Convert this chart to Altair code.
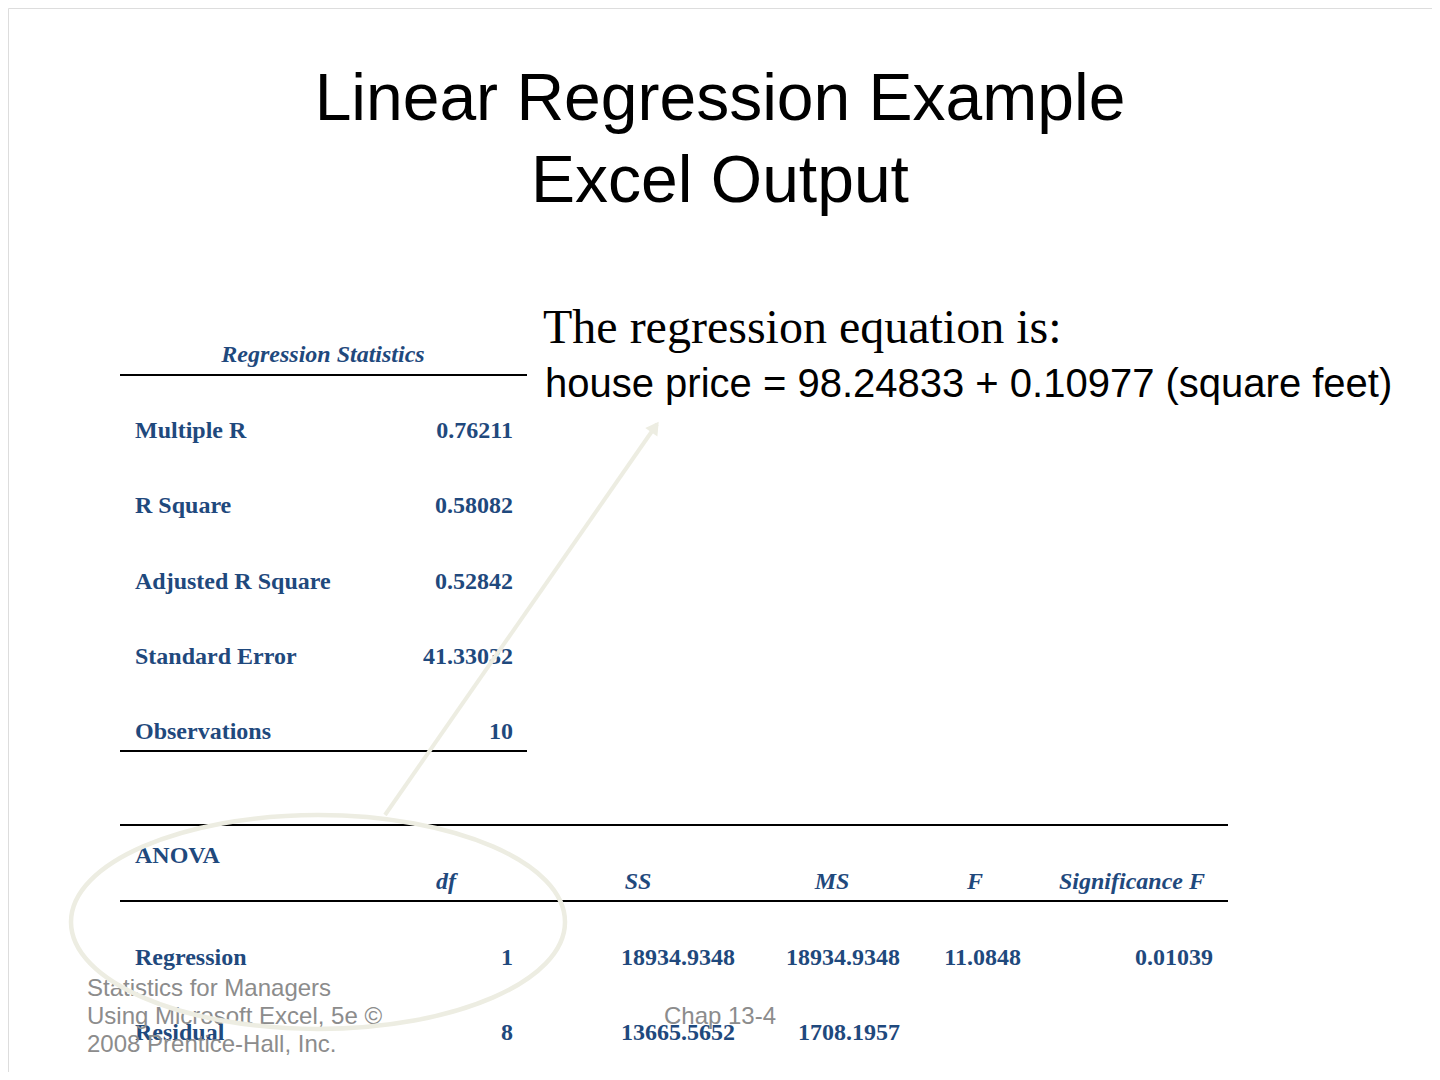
import altair as alt
import pandas as pd

# ---------------- data ----------------
title_lines = ["Linear Regression Example", "Excel Output"]
eq_intro = "The regression equation is:"
eq_text = "house price = 98.24833 + 0.10977 (square feet)"

stats_header = "Regression Statistics"
stats_labels = ["Multiple R", "R Square", "Adjusted R Square", "Standard Error", "Observations"]
stats_values = ["0.76211", "0.58082", "0.52842", "41.33032", "10"]

anova_title = "ANOVA"
anova_cols = ["df", "SS", "MS", "F", "Significance F"]
anova_rows = ["Regression", "Residual"]
anova_df = ["1", "8"]
anova_ss = ["18934.9348", "13665.5652"]
anova_ms = ["18934.9348", "1708.1957"]
anova_f = ["11.0848", ""]
anova_sig = ["0.01039", ""]

footer_lines = ["Statistics for Managers", "Using Microsoft Excel, 5e \u00a9", "2008 Prentice-Hall, Inc."]
footer_right = "Chap 13-4"

# ---------------- layout (page pixel coordinates) ----------------
BLUE = "#1F497D"
SERIF = "Liberation Serif"
SANS = "Liberation Sans"
TS = 24  # table font size

title_y = [120, 202]
stats_row_y = [438, 513, 589, 664, 739]
anova_row_y = [965, 1040]
anova_col_right = [513, 735, 900, 1021, 1213]
anova_col_center = [446, 638, 832, 975, 1132]
footer_y = [996, 1024, 1052]

texts = []
def add(x, y, t, size, color, font, weight="normal", style="normal", align="left"):
    texts.append(dict(x=x, y=y, t=t, size=size, color=color, font=font,
                      weight=weight, style=style, align=align))

for t, y in zip(title_lines, title_y):
    add(720, y, t, 66, "#000000", SANS, align="center")
add(543, 343, eq_intro, 48, "#000000", SERIF)
add(545, 397, eq_text, 40, "#000000", SANS)

add(323, 362, stats_header, TS, BLUE, SERIF, "bold", "italic", "center")
for lab, val, y in zip(stats_labels, stats_values, stats_row_y):
    add(135, y, lab, TS, BLUE, SERIF, "bold")
    add(513, y, val, TS, BLUE, SERIF, "bold", align="right")

add(135, 863, anova_title, TS, BLUE, SERIF, "bold")
for c, x in zip(anova_cols, anova_col_center):
    add(x, 889, c, TS, BLUE, SERIF, "bold", "italic", "center")
for i, (r, y) in enumerate(zip(anova_rows, anova_row_y)):
    add(135, y, r, TS, BLUE, SERIF, "bold")
    vals = [anova_df[i], anova_ss[i], anova_ms[i], anova_f[i], anova_sig[i]]
    for v, x in zip(vals, anova_col_right):
        if v:
            add(x, y, v, TS, BLUE, SERIF, "bold", align="right")

for t, y in zip(footer_lines, footer_y):
    add(87, y, t, 24, "#8C8C8C", SANS)
add(720, 1024, footer_right, 24, "#8C8C8C", SANS, align="center")

tdf = pd.DataFrame(texts)

rules = pd.DataFrame(dict(
    x=[120, 120, 120, 120],
    x2=[527, 527, 1228, 1228],
    y=[375, 751, 825, 901],
))

arrow = pd.DataFrame(dict(x=[385], y=[815], x2=[657], y2=[424]))
arrow_head = pd.DataFrame(dict(x=[655], y=[427]))
ellipse = pd.DataFrame(dict(x=[318], y=[922]))

X = alt.Scale(domain=[8, 1432], nice=False, zero=False)
Y = alt.Scale(domain=[1072, 8], nice=False, zero=False)

def xe(f):
    return alt.X(f, type="quantitative", scale=X, axis=None)
def ye(f):
    return alt.Y(f, type="quantitative", scale=Y, axis=None)

layers = []
for (size, color, font, weight, style, align), g in tdf.groupby(
        ["size", "color", "font", "weight", "style", "align"]):
    layers.append(
        alt.Chart(g).mark_text(
            fontSize=float(size), color=color, font=font, fontWeight=weight,
            fontStyle=style, align=align, baseline="alphabetic"
        ).encode(x=xe("x"), y=ye("y"), text="t:N")
    )

rule_layer = alt.Chart(rules).mark_rule(color="#000000", strokeWidth=2).encode(
    x=xe("x"), x2="x2:Q", y=ye("y"))

arrow_layer = alt.Chart(arrow).mark_rule(color="#EDEDE2", strokeWidth=4).encode(
    x=xe("x"), x2="x2:Q", y=ye("y"), y2="y2:Q")
head_layer = alt.Chart(arrow_head).mark_point(
    shape="triangle-up", filled=True, color="#EDEDE2", size=220, angle=35, opacity=1
).encode(x=xe("x"), y=ye("y"))

ell_path = "M -1 0 A 1 0.433 0 1 1 1 0 A 1 0.433 0 1 1 -1 0 Z"
ellipse_layer = alt.Chart(ellipse).mark_point(
    shape=ell_path, filled=False, color="#EDEDE2", strokeWidth=4.5,
    size=494 * 494, opacity=1
).encode(x=xe("x"), y=ye("y"))

chart = alt.layer(rule_layer, *layers, arrow_layer, head_layer, ellipse_layer).properties(
    width=1424, height=1064,
    autosize=alt.AutoSizeParams(type="none"),
    padding=0,
).configure_view(stroke="transparent", strokeWidth=0).configure(background="#FFFFFF")

chart.save("out.html", embed_options={"renderer": "svg", "actions": False})
